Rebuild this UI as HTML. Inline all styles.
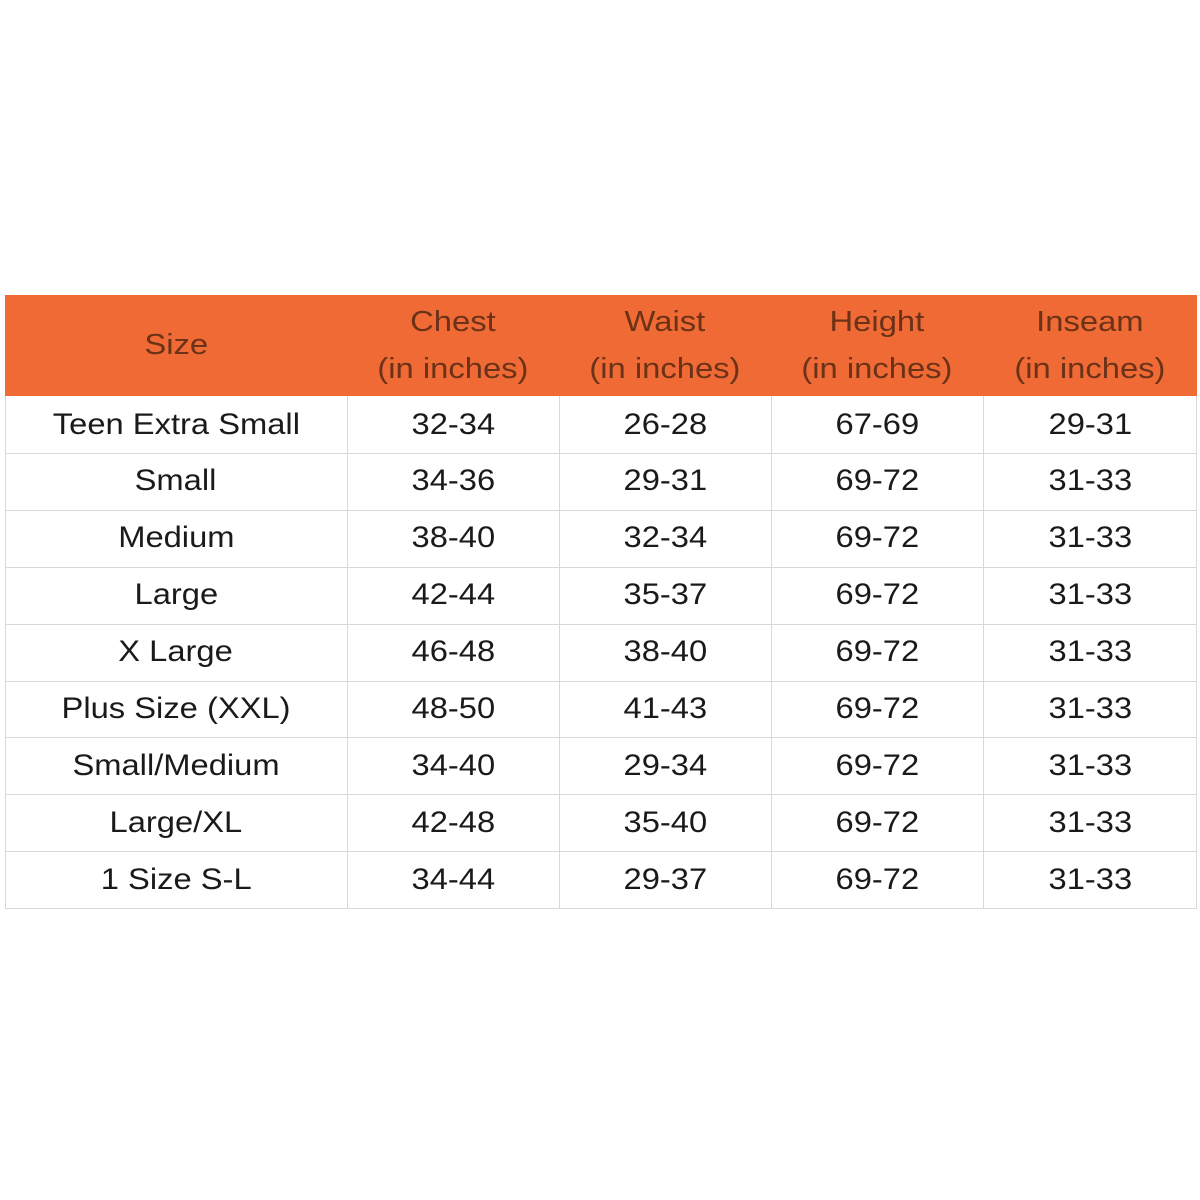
<!DOCTYPE html>
<html><head><style>
body{margin:0;width:1200px;height:1200px;background:#fff;position:relative;font-family:"Liberation Sans",sans-serif;overflow:hidden}
.h{position:absolute;top:295px;height:101px;left:5px;width:1192px;background:#ef6a34}
.c{position:absolute;display:flex;align-items:center;justify-content:center;text-align:center}
.c span{display:inline-block;white-space:nowrap}
.hd{color:#6b3218;font-size:29px;line-height:47px}
.hd span{transform:scaleX(1.13)}
.bd{color:#1a1a1a;font-size:30px}
.bd span{transform:scaleX(1.09)}
.vl{position:absolute;top:396px;height:512px;width:1px;background:#d8d8d8}
.hl{position:absolute;left:5px;width:1192px;height:1px;background:#d8d8d8}
</style></head><body>
<div class="h"></div>
<div class="c hd" style="left:5px;width:342px;top:295px;height:101px"><span>Size</span></div>
<div class="c hd" style="left:347px;width:212px;top:295px;height:101px"><span>Chest<br>(in inches)</span></div>
<div class="c hd" style="left:559px;width:212px;top:295px;height:101px"><span>Waist<br>(in inches)</span></div>
<div class="c hd" style="left:771px;width:212px;top:295px;height:101px"><span>Height<br>(in inches)</span></div>
<div class="c hd" style="left:983px;width:214px;top:295px;height:101px"><span>Inseam<br>(in inches)</span></div>
<div class="vl" style="left:5px"></div>
<div class="vl" style="left:347px"></div>
<div class="vl" style="left:559px"></div>
<div class="vl" style="left:771px"></div>
<div class="vl" style="left:983px"></div>
<div class="vl" style="left:1196px"></div>
<div id="rows"></div>
<script>
var d=[["Teen Extra Small","32-34","26-28","67-69","29-31"],["Small","34-36","29-31","69-72","31-33"],["Medium","38-40","32-34","69-72","31-33"],["Large","42-44","35-37","69-72","31-33"],["X Large","46-48","38-40","69-72","31-33"],["Plus Size (XXL)","48-50","41-43","69-72","31-33"],["Small/Medium","34-40","29-34","69-72","31-33"],["Large/XL","42-48","35-40","69-72","31-33"],["1 Size S-L","34-44","29-37","69-72","31-33"]];
var xs=[5,347,559,771,983,1197],h="";
for(var i=0;i<9;i++){var t=396+i*56.9;
for(var j=0;j<5;j++)h+='<div class="c bd" style="left:'+xs[j]+'px;width:'+(xs[j+1]-xs[j])+'px;top:'+t+'px;height:57px"><span>'+d[i][j]+'</span></div>';
h+='<div class="hl" style="top:'+Math.round(t+56.9)+'px"></div>';}
document.getElementById("rows").innerHTML=h;
</script>
</body></html>
